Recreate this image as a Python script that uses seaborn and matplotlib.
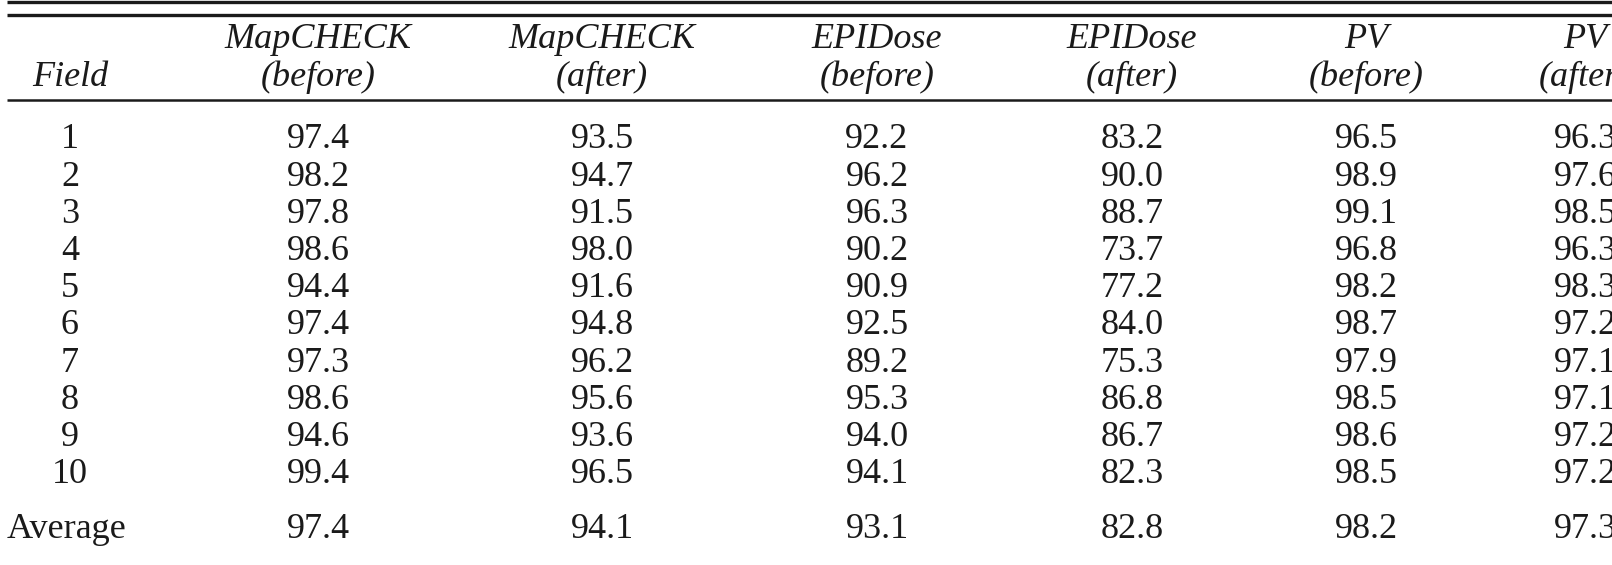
import matplotlib
matplotlib.use("Agg")
import matplotlib.pyplot as plt
import seaborn as sns

fields = ["1", "2", "3", "4", "5", "6", "7", "8", "9", "10"]
mapcheck_before = [97.4, 98.2, 97.8, 98.6, 94.4, 97.4, 97.3, 98.6, 94.6, 99.4]
mapcheck_after = [93.5, 94.7, 91.5, 98.0, 91.6, 94.8, 96.2, 95.6, 93.6, 96.5]
epidose_before = [92.2, 96.2, 96.3, 90.2, 90.9, 92.5, 89.2, 95.3, 94.0, 94.1]
epidose_after = [83.2, 90.0, 88.7, 73.7, 77.2, 84.0, 75.3, 86.8, 86.7, 82.3]
pv_before = [96.5, 98.9, 99.1, 96.8, 98.2, 98.7, 97.9, 98.5, 98.6, 98.5]
pv_after = [96.3, 97.6, 98.5, 96.3, 98.3, 97.2, 97.1, 97.1, 97.2, 97.2]
averages = [97.4, 94.1, 93.1, 82.8, 98.2, 97.3]
headers = [("MapCHECK", "(before)"), ("MapCHECK", "(after)"),
           ("EPIDose", "(before)"), ("EPIDose", "(after)"),
           ("PV", "(before)"), ("PV", "(after)")]

sns.set_theme(style="white")
plt.rcParams['font.family'] = ['Liberation Serif', 'DejaVu Serif']

W, H = 1612, 565
fig = plt.figure(figsize=(W / 100, H / 100), dpi=100)
ax = fig.add_axes([0, 0, 1, 1])
ax.set_xlim(0, W)
ax.set_ylim(H, 0)
ax.axis("off")

fs = 26
col_x = [318, 602, 877, 1132, 1366, 1585]
field_x = 70
row_y0, row_dy = 140, 37.2
avg_y = 530
ink = "#1a1a1a"

# rules
ax.plot([7, 1612], [1.5, 1.5], color=ink, lw=2.4, solid_capstyle="butt")
ax.plot([7, 1612], [14.5, 14.5], color=ink, lw=2.4, solid_capstyle="butt")
ax.plot([7, 1612], [100, 100], color=ink, lw=1.8, solid_capstyle="butt")

# header
ax.text(field_x, 77, "Field", style="italic", fontsize=fs, ha="center", va="center", color=ink)
for x, (h1, h2) in zip(col_x, headers):
    ax.text(x, 40, h1, style="italic", fontsize=fs, ha="center", va="center", color=ink)
    ax.text(x, 77, h2, style="italic", fontsize=fs, ha="center", va="center", color=ink)

cols = [mapcheck_before, mapcheck_after, epidose_before, epidose_after, pv_before, pv_after]
for i, f in enumerate(fields):
    y = row_y0 + i * row_dy
    ax.text(field_x, y, f, fontsize=fs, ha="center", va="center", color=ink)
    for x, c in zip(col_x, cols):
        ax.text(x, y, f"{c[i]:.1f}", fontsize=fs, ha="center", va="center", color=ink)

ax.text(7, avg_y, "Average", fontsize=fs, ha="left", va="center", color=ink)
for x, a in zip(col_x, averages):
    ax.text(x, avg_y, f"{a:.1f}", fontsize=fs, ha="center", va="center", color=ink)

fig.savefig("out.png", dpi=100)
